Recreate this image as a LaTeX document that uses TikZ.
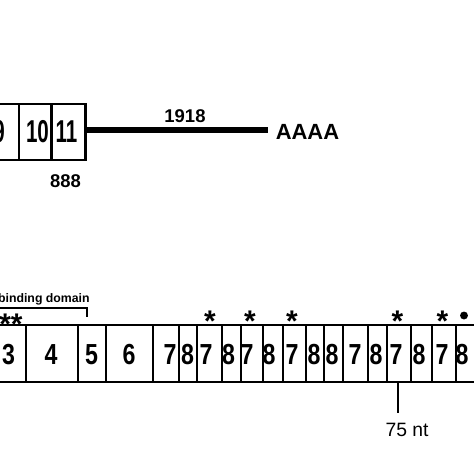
\documentclass[tikz,border=0pt]{standalone}
\usepackage{fontspec}
\setmainfont{Liberation Sans}
\newfontfamily\topcellfont[FakeStretch=0.65]{Liberation Sans}
\newfontfamily\botcellfont[FakeStretch=0.8]{Liberation Sans}
\usetikzlibrary{positioning}
\tikzset{
  boxline/.style={line width=1.4pt},
  thinline/.style={line width=0.7pt},
  topnum/.style={inner sep=0pt, font=\topcellfont\bfseries\fontsize{18}{18}\selectfont},
  botnum/.style={inner sep=0pt, font=\botcellfont\bfseries\fontsize{16.5}{16.5}\selectfont},
  lbl/.style={inner sep=0pt, font=\bfseries\fontsize{10.5}{10.5}\selectfont},
  repstar/.style={inner sep=0pt, anchor=base, font=\bfseries\fontsize{17}{17}\selectfont},
}

\begin{document}
\begin{tikzpicture}[x=0.02cm,y=-0.02cm]
	\useasboundingbox (0,0) rectangle (474,474);
	\clip (0,0) rectangle (474,474);
	% upper transcript
	\draw[boxline] (-20,104) rectangle (85.5,160);
	\foreach \x in {19,51.5}
		\draw[boxline] (\x,104) -- (\x,160);
	\node[topnum] (e9) at (-1,132) {9};
	\node[topnum] (e10) at (37.5,132) {10};
	\node[topnum] (e11) at (66.5,132) {11};
	\coordinate (stop) at (85.5,130);
	\coordinate (utrend) at (268,130);
	\draw[line width=3.8pt] (stop) -- (utrend);
	\node[lbl] (len) at (185,116.5) {1918};
	\node[lbl] (pos) at (65.5,181) {888};
	\node[lbl, font=\bfseries\fontsize{12.5}{12.5}\selectfont] (polya) at (307.5,131.5) {AAAA};
	% lower transcript
	\node[anchor=base east, inner sep=0pt, font=\bfseries\fontsize{7}{7}\selectfont] (bind) at (90,302) {binding domain};
	\coordinate (brl) at (-5,308);
	\coordinate (brr) at (87,317);
	\draw[thinline] (brl) -| (brr);
	\node[repstar] (lstars) at (11,334) {**};
	\draw[boxline] (-20,325) -- (494,325) (-20,382) -- (494,382);
	\foreach \x in {26,78,106,153,179,197,222,241,263,283,306,324,343,368,387,411,432,456}
		\draw[boxline] (\x,325) -- (\x,382);
	\foreach \x/\t [count=\i] in {8.5/3,51/4,91.5/5,129/6,170/7,187.5/8,206/7,228.5/8,247/7,269/8,292/7,314/8,332/8,355/7,376/8,396/7,419/8,442/7,462/8}
		\node[botnum] (c\i) at (\x,355) {\t};
	\foreach \x [count=\i] in {210,250,292,397.5,442.5}
		\node[repstar] (s\i) at (\x,331.5) {*};
	\node[circle, fill, inner sep=0pt, minimum size=4.5pt] (dot) at (464,315.5) {};
	\coordinate (ticktop) at (398,382);
	\coordinate (tickbot) at (398,413);
	\draw[thinline] (ticktop) -- (tickbot);
	\node[inner sep=0pt, font=\fontsize{11}{11}\selectfont] (nt) at (407,430) {75 nt};
\end{tikzpicture}
\end{document}
